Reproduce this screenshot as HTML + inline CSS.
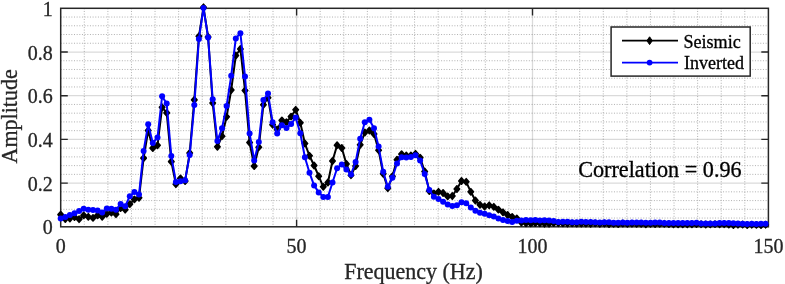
<!DOCTYPE html><html><head><meta charset="utf-8"><style>
html,body{margin:0;padding:0;background:#fff;}
svg{display:block;filter:blur(0.45px);}
text{font-family:"Liberation Serif","Times New Roman",serif;fill:#262626;stroke:#262626;stroke-width:0.3px;}
</style></head><body>
<svg width="785" height="284" viewBox="0 0 785 284">
<rect x="0" y="0" width="785" height="284" fill="#fff"/>
<path d="M84.29 8.30V226.80M107.88 8.30V226.80M131.47 8.30V226.80M155.06 8.30V226.80M178.65 8.30V226.80M202.24 8.30V226.80M225.83 8.30V226.80M249.42 8.30V226.80M273.01 8.30V226.80M320.19 8.30V226.80M343.78 8.30V226.80M367.37 8.30V226.80M390.96 8.30V226.80M414.55 8.30V226.80M438.14 8.30V226.80M461.73 8.30V226.80M485.32 8.30V226.80M508.91 8.30V226.80M556.09 8.30V226.80M579.68 8.30V226.80M603.27 8.30V226.80M626.86 8.30V226.80M650.45 8.30V226.80M674.04 8.30V226.80M697.63 8.30V226.80M721.22 8.30V226.80M744.81 8.30V226.80M60.70 218.06H768.40M60.70 209.32H768.40M60.70 200.58H768.40M60.70 191.84H768.40M60.70 174.36H768.40M60.70 165.62H768.40M60.70 156.88H768.40M60.70 148.14H768.40M60.70 130.66H768.40M60.70 121.92H768.40M60.70 113.18H768.40M60.70 104.44H768.40M60.70 86.96H768.40M60.70 78.22H768.40M60.70 69.48H768.40M60.70 60.74H768.40M60.70 43.26H768.40M60.70 34.52H768.40M60.70 25.78H768.40M60.70 17.04H768.40" stroke="#a8a8a8" stroke-width="0.9" stroke-dasharray="1 1.66" fill="none"/>
<path d="M296.60 8.30V226.80M532.50 8.30V226.80" stroke="#262626" stroke-opacity="0.17" stroke-width="1.25" fill="none"/>
<path d="M60.70 183.10H768.40M60.70 139.40H768.40M60.70 95.70H768.40M60.70 52.00H768.40" stroke="#262626" stroke-opacity="0.17" stroke-width="1.25" fill="none"/>
<rect x="60.70" y="8.30" width="707.70" height="218.50" fill="none" stroke="#262626" stroke-width="1.5"/>
<path d="M296.60 226.80V219.70M296.60 8.30V15.40M532.50 226.80V219.70M532.50 8.30V15.40M60.70 183.10H67.80M768.40 183.10H761.30M60.70 139.40H67.80M768.40 139.40H761.30M60.70 95.70H67.80M768.40 95.70H761.30M60.70 52.00H67.80M768.40 52.00H761.30" stroke="#262626" stroke-width="1.4" fill="none"/>
<defs><clipPath id="c"><rect x="59.70" y="5.30" width="709.70" height="223.50"/></clipPath></defs>
<g clip-path="url(#c)">
<polyline points="60.7,214.6 65.3,219.0 69.9,218.5 74.5,217.0 79.1,219.2 83.7,215.4 88.3,216.8 93.0,217.9 97.6,215.4 102.2,216.8 106.8,213.9 111.4,212.5 116.0,214.2 120.6,208.0 125.2,209.7 129.8,204.1 134.4,199.4 139.0,197.8 143.6,158.1 148.2,130.5 152.8,148.1 157.5,145.3 162.1,107.3 166.7,112.9 171.3,161.6 175.9,184.2 180.5,178.4 185.1,181.1 189.7,153.0 194.3,99.9 198.9,36.3 203.5,7.3 208.1,37.0 212.7,103.0 217.4,146.8 222.0,136.2 226.6,116.8 231.2,90.0 235.8,55.5 240.4,49.0 245.0,90.5 249.6,142.5 254.2,166.1 258.8,147.2 263.4,104.8 268.0,97.7 272.6,124.7 277.2,129.5 281.9,120.4 286.5,122.1 291.1,116.6 295.7,109.8 300.3,122.8 304.9,143.5 309.5,155.8 314.1,165.5 318.7,176.2 323.3,186.8 327.9,182.5 332.5,161.0 337.1,145.2 341.8,148.0 346.4,164.0 351.0,175.2 355.6,166.0 360.2,144.8 364.8,132.5 369.4,130.5 374.0,134.0 378.6,150.2 383.2,173.8 387.8,188.2 392.4,176.3 397.0,159.7 401.6,154.1 406.3,155.5 410.9,155.5 415.5,153.8 420.1,157.6 424.7,171.5 429.3,191.0 433.9,193.4 438.5,191.8 443.1,193.0 447.7,196.4 452.3,196.0 456.9,189.0 461.5,181.0 466.2,181.8 470.8,191.8 475.4,200.5 480.0,204.8 484.6,206.5 489.2,205.3 493.8,206.8 498.4,209.6 503.0,212.3 507.6,215.0 512.2,216.9 516.8,218.4 521.4,222.5 526.0,223.3 530.7,223.4 535.3,223.1 539.9,223.3 544.5,223.7 549.1,223.7 553.7,223.1 558.3,223.2 562.9,223.4 567.5,223.5 572.1,223.4 576.7,223.6 581.3,223.6 585.9,223.6 590.6,223.8 595.2,223.4 599.8,223.9 604.4,223.5 609.0,224.1 613.6,223.9 618.2,224.1 622.8,223.5 627.4,223.9 632.0,223.7 636.6,223.9 641.2,223.8 645.8,224.3 650.5,223.9 655.1,224.0 659.7,223.9 664.3,223.8 668.9,224.1 673.5,224.4 678.1,224.4 682.7,224.4 687.3,224.3 691.9,224.3 696.5,224.1 701.1,224.2 705.7,224.5 710.3,224.4 715.0,224.1 719.6,224.3 724.2,224.2 728.8,224.6 733.4,225.0 738.0,224.7 742.6,224.5 747.2,225.0 751.8,224.7 756.4,224.9 761.0,225.1 765.6,224.7" fill="none" stroke="#000" stroke-width="2.0" stroke-linejoin="round"/>
</g>
<path d="M60.7 211.5l2.7 3.1l-2.7 3.1l-2.7 -3.1zM65.3 215.9l2.7 3.1l-2.7 3.1l-2.7 -3.1zM69.9 215.4l2.7 3.1l-2.7 3.1l-2.7 -3.1zM74.5 213.9l2.7 3.1l-2.7 3.1l-2.7 -3.1zM79.1 216.1l2.7 3.1l-2.7 3.1l-2.7 -3.1zM83.7 212.3l2.7 3.1l-2.7 3.1l-2.7 -3.1zM88.3 213.7l2.7 3.1l-2.7 3.1l-2.7 -3.1zM93.0 214.8l2.7 3.1l-2.7 3.1l-2.7 -3.1zM97.6 212.3l2.7 3.1l-2.7 3.1l-2.7 -3.1zM102.2 213.7l2.7 3.1l-2.7 3.1l-2.7 -3.1zM106.8 210.8l2.7 3.1l-2.7 3.1l-2.7 -3.1zM111.4 209.4l2.7 3.1l-2.7 3.1l-2.7 -3.1zM116.0 211.1l2.7 3.1l-2.7 3.1l-2.7 -3.1zM120.6 204.9l2.7 3.1l-2.7 3.1l-2.7 -3.1zM125.2 206.6l2.7 3.1l-2.7 3.1l-2.7 -3.1zM129.8 201.0l2.7 3.1l-2.7 3.1l-2.7 -3.1zM134.4 196.3l2.7 3.1l-2.7 3.1l-2.7 -3.1zM139.0 194.7l2.7 3.1l-2.7 3.1l-2.7 -3.1zM143.6 155.0l2.7 3.1l-2.7 3.1l-2.7 -3.1zM148.2 127.4l2.7 3.1l-2.7 3.1l-2.7 -3.1zM152.8 145.0l2.7 3.1l-2.7 3.1l-2.7 -3.1zM157.5 142.2l2.7 3.1l-2.7 3.1l-2.7 -3.1zM162.1 104.2l2.7 3.1l-2.7 3.1l-2.7 -3.1zM166.7 109.8l2.7 3.1l-2.7 3.1l-2.7 -3.1zM171.3 158.5l2.7 3.1l-2.7 3.1l-2.7 -3.1zM175.9 181.1l2.7 3.1l-2.7 3.1l-2.7 -3.1zM180.5 175.3l2.7 3.1l-2.7 3.1l-2.7 -3.1zM185.1 178.0l2.7 3.1l-2.7 3.1l-2.7 -3.1zM189.7 149.9l2.7 3.1l-2.7 3.1l-2.7 -3.1zM194.3 96.8l2.7 3.1l-2.7 3.1l-2.7 -3.1zM198.9 33.2l2.7 3.1l-2.7 3.1l-2.7 -3.1zM203.5 4.2l2.7 3.1l-2.7 3.1l-2.7 -3.1zM208.1 33.9l2.7 3.1l-2.7 3.1l-2.7 -3.1zM212.7 99.9l2.7 3.1l-2.7 3.1l-2.7 -3.1zM217.4 143.7l2.7 3.1l-2.7 3.1l-2.7 -3.1zM222.0 133.1l2.7 3.1l-2.7 3.1l-2.7 -3.1zM226.6 113.7l2.7 3.1l-2.7 3.1l-2.7 -3.1zM231.2 86.9l2.7 3.1l-2.7 3.1l-2.7 -3.1zM235.8 52.4l2.7 3.1l-2.7 3.1l-2.7 -3.1zM240.4 45.9l2.7 3.1l-2.7 3.1l-2.7 -3.1zM245.0 87.4l2.7 3.1l-2.7 3.1l-2.7 -3.1zM249.6 139.4l2.7 3.1l-2.7 3.1l-2.7 -3.1zM254.2 163.0l2.7 3.1l-2.7 3.1l-2.7 -3.1zM258.8 144.1l2.7 3.1l-2.7 3.1l-2.7 -3.1zM263.4 101.7l2.7 3.1l-2.7 3.1l-2.7 -3.1zM268.0 94.6l2.7 3.1l-2.7 3.1l-2.7 -3.1zM272.6 121.6l2.7 3.1l-2.7 3.1l-2.7 -3.1zM277.2 126.4l2.7 3.1l-2.7 3.1l-2.7 -3.1zM281.9 117.3l2.7 3.1l-2.7 3.1l-2.7 -3.1zM286.5 119.0l2.7 3.1l-2.7 3.1l-2.7 -3.1zM291.1 113.5l2.7 3.1l-2.7 3.1l-2.7 -3.1zM295.7 106.7l2.7 3.1l-2.7 3.1l-2.7 -3.1zM300.3 119.7l2.7 3.1l-2.7 3.1l-2.7 -3.1zM304.9 140.4l2.7 3.1l-2.7 3.1l-2.7 -3.1zM309.5 152.7l2.7 3.1l-2.7 3.1l-2.7 -3.1zM314.1 162.4l2.7 3.1l-2.7 3.1l-2.7 -3.1zM318.7 173.1l2.7 3.1l-2.7 3.1l-2.7 -3.1zM323.3 183.7l2.7 3.1l-2.7 3.1l-2.7 -3.1zM327.9 179.4l2.7 3.1l-2.7 3.1l-2.7 -3.1zM332.5 157.9l2.7 3.1l-2.7 3.1l-2.7 -3.1zM337.1 142.1l2.7 3.1l-2.7 3.1l-2.7 -3.1zM341.8 144.9l2.7 3.1l-2.7 3.1l-2.7 -3.1zM346.4 160.9l2.7 3.1l-2.7 3.1l-2.7 -3.1zM351.0 172.1l2.7 3.1l-2.7 3.1l-2.7 -3.1zM355.6 162.9l2.7 3.1l-2.7 3.1l-2.7 -3.1zM360.2 141.7l2.7 3.1l-2.7 3.1l-2.7 -3.1zM364.8 129.4l2.7 3.1l-2.7 3.1l-2.7 -3.1zM369.4 127.4l2.7 3.1l-2.7 3.1l-2.7 -3.1zM374.0 130.9l2.7 3.1l-2.7 3.1l-2.7 -3.1zM378.6 147.1l2.7 3.1l-2.7 3.1l-2.7 -3.1zM383.2 170.7l2.7 3.1l-2.7 3.1l-2.7 -3.1zM387.8 185.1l2.7 3.1l-2.7 3.1l-2.7 -3.1zM392.4 173.2l2.7 3.1l-2.7 3.1l-2.7 -3.1zM397.0 156.6l2.7 3.1l-2.7 3.1l-2.7 -3.1zM401.6 151.0l2.7 3.1l-2.7 3.1l-2.7 -3.1zM406.3 152.4l2.7 3.1l-2.7 3.1l-2.7 -3.1zM410.9 152.4l2.7 3.1l-2.7 3.1l-2.7 -3.1zM415.5 150.7l2.7 3.1l-2.7 3.1l-2.7 -3.1zM420.1 154.5l2.7 3.1l-2.7 3.1l-2.7 -3.1zM424.7 168.4l2.7 3.1l-2.7 3.1l-2.7 -3.1zM429.3 187.9l2.7 3.1l-2.7 3.1l-2.7 -3.1zM433.9 190.3l2.7 3.1l-2.7 3.1l-2.7 -3.1zM438.5 188.7l2.7 3.1l-2.7 3.1l-2.7 -3.1zM443.1 189.9l2.7 3.1l-2.7 3.1l-2.7 -3.1zM447.7 193.3l2.7 3.1l-2.7 3.1l-2.7 -3.1zM452.3 192.9l2.7 3.1l-2.7 3.1l-2.7 -3.1zM456.9 185.9l2.7 3.1l-2.7 3.1l-2.7 -3.1zM461.5 177.9l2.7 3.1l-2.7 3.1l-2.7 -3.1zM466.2 178.7l2.7 3.1l-2.7 3.1l-2.7 -3.1zM470.8 188.7l2.7 3.1l-2.7 3.1l-2.7 -3.1zM475.4 197.4l2.7 3.1l-2.7 3.1l-2.7 -3.1zM480.0 201.7l2.7 3.1l-2.7 3.1l-2.7 -3.1zM484.6 203.4l2.7 3.1l-2.7 3.1l-2.7 -3.1zM489.2 202.2l2.7 3.1l-2.7 3.1l-2.7 -3.1zM493.8 203.7l2.7 3.1l-2.7 3.1l-2.7 -3.1zM498.4 206.5l2.7 3.1l-2.7 3.1l-2.7 -3.1zM503.0 209.2l2.7 3.1l-2.7 3.1l-2.7 -3.1zM507.6 211.9l2.7 3.1l-2.7 3.1l-2.7 -3.1zM512.2 213.8l2.7 3.1l-2.7 3.1l-2.7 -3.1zM516.8 215.3l2.7 3.1l-2.7 3.1l-2.7 -3.1zM521.4 219.4l2.7 3.1l-2.7 3.1l-2.7 -3.1zM526.0 220.2l2.7 3.1l-2.7 3.1l-2.7 -3.1zM530.7 220.3l2.7 3.1l-2.7 3.1l-2.7 -3.1zM535.3 220.0l2.7 3.1l-2.7 3.1l-2.7 -3.1zM539.9 220.2l2.7 3.1l-2.7 3.1l-2.7 -3.1zM544.5 220.6l2.7 3.1l-2.7 3.1l-2.7 -3.1zM549.1 220.6l2.7 3.1l-2.7 3.1l-2.7 -3.1zM553.7 220.0l2.7 3.1l-2.7 3.1l-2.7 -3.1zM558.3 220.1l2.7 3.1l-2.7 3.1l-2.7 -3.1zM562.9 220.3l2.7 3.1l-2.7 3.1l-2.7 -3.1zM567.5 220.4l2.7 3.1l-2.7 3.1l-2.7 -3.1zM572.1 220.3l2.7 3.1l-2.7 3.1l-2.7 -3.1zM576.7 220.5l2.7 3.1l-2.7 3.1l-2.7 -3.1zM581.3 220.5l2.7 3.1l-2.7 3.1l-2.7 -3.1zM585.9 220.5l2.7 3.1l-2.7 3.1l-2.7 -3.1zM590.6 220.7l2.7 3.1l-2.7 3.1l-2.7 -3.1zM595.2 220.3l2.7 3.1l-2.7 3.1l-2.7 -3.1zM599.8 220.8l2.7 3.1l-2.7 3.1l-2.7 -3.1zM604.4 220.4l2.7 3.1l-2.7 3.1l-2.7 -3.1zM609.0 221.0l2.7 3.1l-2.7 3.1l-2.7 -3.1zM613.6 220.8l2.7 3.1l-2.7 3.1l-2.7 -3.1zM618.2 221.0l2.7 3.1l-2.7 3.1l-2.7 -3.1zM622.8 220.4l2.7 3.1l-2.7 3.1l-2.7 -3.1zM627.4 220.8l2.7 3.1l-2.7 3.1l-2.7 -3.1zM632.0 220.6l2.7 3.1l-2.7 3.1l-2.7 -3.1zM636.6 220.8l2.7 3.1l-2.7 3.1l-2.7 -3.1zM641.2 220.7l2.7 3.1l-2.7 3.1l-2.7 -3.1zM645.8 221.2l2.7 3.1l-2.7 3.1l-2.7 -3.1zM650.5 220.8l2.7 3.1l-2.7 3.1l-2.7 -3.1zM655.1 220.9l2.7 3.1l-2.7 3.1l-2.7 -3.1zM659.7 220.8l2.7 3.1l-2.7 3.1l-2.7 -3.1zM664.3 220.7l2.7 3.1l-2.7 3.1l-2.7 -3.1zM668.9 221.0l2.7 3.1l-2.7 3.1l-2.7 -3.1zM673.5 221.3l2.7 3.1l-2.7 3.1l-2.7 -3.1zM678.1 221.3l2.7 3.1l-2.7 3.1l-2.7 -3.1zM682.7 221.3l2.7 3.1l-2.7 3.1l-2.7 -3.1zM687.3 221.2l2.7 3.1l-2.7 3.1l-2.7 -3.1zM691.9 221.2l2.7 3.1l-2.7 3.1l-2.7 -3.1zM696.5 221.0l2.7 3.1l-2.7 3.1l-2.7 -3.1zM701.1 221.1l2.7 3.1l-2.7 3.1l-2.7 -3.1zM705.7 221.4l2.7 3.1l-2.7 3.1l-2.7 -3.1zM710.3 221.3l2.7 3.1l-2.7 3.1l-2.7 -3.1zM715.0 221.0l2.7 3.1l-2.7 3.1l-2.7 -3.1zM719.6 221.2l2.7 3.1l-2.7 3.1l-2.7 -3.1zM724.2 221.1l2.7 3.1l-2.7 3.1l-2.7 -3.1zM728.8 221.5l2.7 3.1l-2.7 3.1l-2.7 -3.1zM733.4 221.9l2.7 3.1l-2.7 3.1l-2.7 -3.1zM738.0 221.6l2.7 3.1l-2.7 3.1l-2.7 -3.1zM742.6 221.4l2.7 3.1l-2.7 3.1l-2.7 -3.1zM747.2 221.9l2.7 3.1l-2.7 3.1l-2.7 -3.1zM751.8 221.6l2.7 3.1l-2.7 3.1l-2.7 -3.1zM756.4 221.8l2.7 3.1l-2.7 3.1l-2.7 -3.1zM761.0 222.0l2.7 3.1l-2.7 3.1l-2.7 -3.1zM765.6 221.6l2.7 3.1l-2.7 3.1l-2.7 -3.1z" fill="#000" stroke="#000" stroke-width="1.6" stroke-linejoin="round"/>
<g clip-path="url(#c)">
<polyline points="60.7,218.5 65.3,217.0 69.9,215.1 74.5,213.2 79.1,211.1 83.7,208.7 88.3,209.7 93.0,210.1 97.6,210.4 102.2,212.5 106.8,208.6 111.4,208.7 116.0,209.7 120.6,204.1 125.2,206.2 129.8,196.2 134.4,192.0 139.0,194.6 143.6,151.0 148.2,124.2 152.8,142.9 157.5,137.5 162.1,96.3 166.7,103.6 171.3,155.9 175.9,181.9 180.5,181.2 185.1,180.2 189.7,155.1 194.3,105.1 198.9,39.1 203.5,8.0 208.1,37.4 212.7,99.2 217.4,141.1 222.0,128.2 226.6,105.9 231.2,75.8 235.8,38.4 240.4,33.2 245.0,76.6 249.6,133.4 254.2,160.4 258.8,142.0 263.4,100.1 268.0,93.5 272.6,122.2 277.2,133.5 281.9,125.3 286.5,128.0 291.1,124.0 295.7,117.6 300.3,133.2 304.9,157.2 309.5,172.8 314.1,185.4 318.7,192.4 323.3,196.9 327.9,196.9 332.5,182.5 337.1,168.3 341.8,164.5 346.4,169.5 351.0,174.4 355.6,162.0 360.2,138.8 364.8,122.2 369.4,119.8 374.0,128.2 378.6,146.6 383.2,171.7 387.8,186.8 392.4,177.8 397.0,163.5 401.6,157.2 406.3,157.6 410.9,156.9 415.5,155.2 420.1,160.4 424.7,174.0 429.3,190.0 433.9,196.8 438.5,199.0 443.1,201.7 447.7,204.5 452.3,206.0 456.9,205.3 461.5,202.2 466.2,203.2 470.8,207.5 475.4,210.7 480.0,212.8 484.6,213.8 489.2,215.2 493.8,216.6 498.4,218.6 503.0,220.1 507.6,220.9 512.2,222.0 516.8,220.7 521.4,220.4 526.0,220.1 530.7,220.3 535.3,220.1 539.9,220.6 544.5,220.3 549.1,220.6 553.7,220.9 558.3,222.0 562.9,221.7 567.5,221.7 572.1,222.2 576.7,222.3 581.3,221.8 585.9,222.0 590.6,222.1 595.2,222.3 599.8,222.4 604.4,222.2 609.0,222.3 613.6,222.8 618.2,222.8 622.8,222.4 627.4,222.7 632.0,222.5 636.6,222.6 641.2,222.5 645.8,222.7 650.5,222.8 655.1,222.6 659.7,222.6 664.3,222.9 668.9,222.9 673.5,223.1 678.1,223.1 682.7,222.9 687.3,222.9 691.9,223.0 696.5,222.8 701.1,223.5 705.7,223.4 710.3,223.4 715.0,223.4 719.6,223.0 724.2,223.1 728.8,223.1 733.4,223.2 738.0,223.6 742.6,223.7 747.2,223.9 751.8,223.8 756.4,223.9 761.0,223.8 765.6,223.8" fill="none" stroke="#00f" stroke-width="2.0" stroke-linejoin="round"/>
</g>
<g fill="#00f"><circle cx="60.7" cy="218.5" r="3.0"/><circle cx="65.3" cy="217.0" r="3.0"/><circle cx="69.9" cy="215.1" r="3.0"/><circle cx="74.5" cy="213.2" r="3.0"/><circle cx="79.1" cy="211.1" r="3.0"/><circle cx="83.7" cy="208.7" r="3.0"/><circle cx="88.3" cy="209.7" r="3.0"/><circle cx="93.0" cy="210.1" r="3.0"/><circle cx="97.6" cy="210.4" r="3.0"/><circle cx="102.2" cy="212.5" r="3.0"/><circle cx="106.8" cy="208.6" r="3.0"/><circle cx="111.4" cy="208.7" r="3.0"/><circle cx="116.0" cy="209.7" r="3.0"/><circle cx="120.6" cy="204.1" r="3.0"/><circle cx="125.2" cy="206.2" r="3.0"/><circle cx="129.8" cy="196.2" r="3.0"/><circle cx="134.4" cy="192.0" r="3.0"/><circle cx="139.0" cy="194.6" r="3.0"/><circle cx="143.6" cy="151.0" r="3.0"/><circle cx="148.2" cy="124.2" r="3.0"/><circle cx="152.8" cy="142.9" r="3.0"/><circle cx="157.5" cy="137.5" r="3.0"/><circle cx="162.1" cy="96.3" r="3.0"/><circle cx="166.7" cy="103.6" r="3.0"/><circle cx="171.3" cy="155.9" r="3.0"/><circle cx="175.9" cy="181.9" r="3.0"/><circle cx="180.5" cy="181.2" r="3.0"/><circle cx="185.1" cy="180.2" r="3.0"/><circle cx="189.7" cy="155.1" r="3.0"/><circle cx="194.3" cy="105.1" r="3.0"/><circle cx="198.9" cy="39.1" r="3.0"/><circle cx="203.5" cy="8.0" r="3.0"/><circle cx="208.1" cy="37.4" r="3.0"/><circle cx="212.7" cy="99.2" r="3.0"/><circle cx="217.4" cy="141.1" r="3.0"/><circle cx="222.0" cy="128.2" r="3.0"/><circle cx="226.6" cy="105.9" r="3.0"/><circle cx="231.2" cy="75.8" r="3.0"/><circle cx="235.8" cy="38.4" r="3.0"/><circle cx="240.4" cy="33.2" r="3.0"/><circle cx="245.0" cy="76.6" r="3.0"/><circle cx="249.6" cy="133.4" r="3.0"/><circle cx="254.2" cy="160.4" r="3.0"/><circle cx="258.8" cy="142.0" r="3.0"/><circle cx="263.4" cy="100.1" r="3.0"/><circle cx="268.0" cy="93.5" r="3.0"/><circle cx="272.6" cy="122.2" r="3.0"/><circle cx="277.2" cy="133.5" r="3.0"/><circle cx="281.9" cy="125.3" r="3.0"/><circle cx="286.5" cy="128.0" r="3.0"/><circle cx="291.1" cy="124.0" r="3.0"/><circle cx="295.7" cy="117.6" r="3.0"/><circle cx="300.3" cy="133.2" r="3.0"/><circle cx="304.9" cy="157.2" r="3.0"/><circle cx="309.5" cy="172.8" r="3.0"/><circle cx="314.1" cy="185.4" r="3.0"/><circle cx="318.7" cy="192.4" r="3.0"/><circle cx="323.3" cy="196.9" r="3.0"/><circle cx="327.9" cy="196.9" r="3.0"/><circle cx="332.5" cy="182.5" r="3.0"/><circle cx="337.1" cy="168.3" r="3.0"/><circle cx="341.8" cy="164.5" r="3.0"/><circle cx="346.4" cy="169.5" r="3.0"/><circle cx="351.0" cy="174.4" r="3.0"/><circle cx="355.6" cy="162.0" r="3.0"/><circle cx="360.2" cy="138.8" r="3.0"/><circle cx="364.8" cy="122.2" r="3.0"/><circle cx="369.4" cy="119.8" r="3.0"/><circle cx="374.0" cy="128.2" r="3.0"/><circle cx="378.6" cy="146.6" r="3.0"/><circle cx="383.2" cy="171.7" r="3.0"/><circle cx="387.8" cy="186.8" r="3.0"/><circle cx="392.4" cy="177.8" r="3.0"/><circle cx="397.0" cy="163.5" r="3.0"/><circle cx="401.6" cy="157.2" r="3.0"/><circle cx="406.3" cy="157.6" r="3.0"/><circle cx="410.9" cy="156.9" r="3.0"/><circle cx="415.5" cy="155.2" r="3.0"/><circle cx="420.1" cy="160.4" r="3.0"/><circle cx="424.7" cy="174.0" r="3.0"/><circle cx="429.3" cy="190.0" r="3.0"/><circle cx="433.9" cy="196.8" r="3.0"/><circle cx="438.5" cy="199.0" r="3.0"/><circle cx="443.1" cy="201.7" r="3.0"/><circle cx="447.7" cy="204.5" r="3.0"/><circle cx="452.3" cy="206.0" r="3.0"/><circle cx="456.9" cy="205.3" r="3.0"/><circle cx="461.5" cy="202.2" r="3.0"/><circle cx="466.2" cy="203.2" r="3.0"/><circle cx="470.8" cy="207.5" r="3.0"/><circle cx="475.4" cy="210.7" r="3.0"/><circle cx="480.0" cy="212.8" r="3.0"/><circle cx="484.6" cy="213.8" r="3.0"/><circle cx="489.2" cy="215.2" r="3.0"/><circle cx="493.8" cy="216.6" r="3.0"/><circle cx="498.4" cy="218.6" r="3.0"/><circle cx="503.0" cy="220.1" r="3.0"/><circle cx="507.6" cy="220.9" r="3.0"/><circle cx="512.2" cy="222.0" r="3.0"/><circle cx="516.8" cy="220.7" r="3.0"/><circle cx="521.4" cy="220.4" r="3.0"/><circle cx="526.0" cy="220.1" r="3.0"/><circle cx="530.7" cy="220.3" r="3.0"/><circle cx="535.3" cy="220.1" r="3.0"/><circle cx="539.9" cy="220.6" r="3.0"/><circle cx="544.5" cy="220.3" r="3.0"/><circle cx="549.1" cy="220.6" r="3.0"/><circle cx="553.7" cy="220.9" r="3.0"/><circle cx="558.3" cy="222.0" r="3.0"/><circle cx="562.9" cy="221.7" r="3.0"/><circle cx="567.5" cy="221.7" r="3.0"/><circle cx="572.1" cy="222.2" r="3.0"/><circle cx="576.7" cy="222.3" r="3.0"/><circle cx="581.3" cy="221.8" r="3.0"/><circle cx="585.9" cy="222.0" r="3.0"/><circle cx="590.6" cy="222.1" r="3.0"/><circle cx="595.2" cy="222.3" r="3.0"/><circle cx="599.8" cy="222.4" r="3.0"/><circle cx="604.4" cy="222.2" r="3.0"/><circle cx="609.0" cy="222.3" r="3.0"/><circle cx="613.6" cy="222.8" r="3.0"/><circle cx="618.2" cy="222.8" r="3.0"/><circle cx="622.8" cy="222.4" r="3.0"/><circle cx="627.4" cy="222.7" r="3.0"/><circle cx="632.0" cy="222.5" r="3.0"/><circle cx="636.6" cy="222.6" r="3.0"/><circle cx="641.2" cy="222.5" r="3.0"/><circle cx="645.8" cy="222.7" r="3.0"/><circle cx="650.5" cy="222.8" r="3.0"/><circle cx="655.1" cy="222.6" r="3.0"/><circle cx="659.7" cy="222.6" r="3.0"/><circle cx="664.3" cy="222.9" r="3.0"/><circle cx="668.9" cy="222.9" r="3.0"/><circle cx="673.5" cy="223.1" r="3.0"/><circle cx="678.1" cy="223.1" r="3.0"/><circle cx="682.7" cy="222.9" r="3.0"/><circle cx="687.3" cy="222.9" r="3.0"/><circle cx="691.9" cy="223.0" r="3.0"/><circle cx="696.5" cy="222.8" r="3.0"/><circle cx="701.1" cy="223.5" r="3.0"/><circle cx="705.7" cy="223.4" r="3.0"/><circle cx="710.3" cy="223.4" r="3.0"/><circle cx="715.0" cy="223.4" r="3.0"/><circle cx="719.6" cy="223.0" r="3.0"/><circle cx="724.2" cy="223.1" r="3.0"/><circle cx="728.8" cy="223.1" r="3.0"/><circle cx="733.4" cy="223.2" r="3.0"/><circle cx="738.0" cy="223.6" r="3.0"/><circle cx="742.6" cy="223.7" r="3.0"/><circle cx="747.2" cy="223.9" r="3.0"/><circle cx="751.8" cy="223.8" r="3.0"/><circle cx="756.4" cy="223.9" r="3.0"/><circle cx="761.0" cy="223.8" r="3.0"/><circle cx="765.6" cy="223.8" r="3.0"/></g>
<text transform="translate(52.70,234.40) scale(1,1.055)" font-size="20" text-anchor="end">0</text>
<text transform="translate(52.70,190.70) scale(1,1.055)" font-size="20" text-anchor="end">0.2</text>
<text transform="translate(52.70,147.00) scale(1,1.055)" font-size="20" text-anchor="end">0.4</text>
<text transform="translate(52.70,103.30) scale(1,1.055)" font-size="20" text-anchor="end">0.6</text>
<text transform="translate(52.70,59.60) scale(1,1.055)" font-size="20" text-anchor="end">0.8</text>
<text transform="translate(52.70,15.90) scale(1,1.055)" font-size="20" text-anchor="end">1</text>
<text transform="translate(60.70,253.30) scale(1,1.055)" font-size="20" text-anchor="middle">0</text>
<text transform="translate(296.60,253.30) scale(1,1.055)" font-size="20" text-anchor="middle">50</text>
<text transform="translate(532.50,253.30) scale(1,1.055)" font-size="20" text-anchor="middle">100</text>
<text transform="translate(768.40,253.30) scale(1,1.055)" font-size="20" text-anchor="middle">150</text>
<text transform="translate(413.50,279.20) scale(1,1.055)" font-size="22" text-anchor="middle">Frequency (Hz)</text>
<text transform="translate(17.20,116.35) rotate(-90) scale(1,1.055)" font-size="22" text-anchor="middle">Amplitude</text>
<text transform="translate(578.20,176.60) scale(1,1.055)" font-size="22.2" text-anchor="start" style="fill:#000;stroke:#000">Correlation = 0.96</text>
<rect x="611.1" y="27.0" width="139.1" height="49.1" fill="#fff" stroke="#262626" stroke-width="1.5"/>
<path d="M622 40.7H678" stroke="#000" stroke-width="1.8"/>
<path d="M649.6 36.8l2.7 3.9l-2.7 3.9l-2.7 -3.9z" fill="#000" stroke="#000" stroke-width="1.0" stroke-linejoin="round"/>
<path d="M622 62.7H678" stroke="#00f" stroke-width="1.8"/>
<circle cx="649.6" cy="62.6" r="2.9" fill="#00f"/>
<text transform="translate(683.40,47.80) scale(1,1.000)" font-size="18.1" text-anchor="start" style="fill:#000;stroke:#000">Seismic</text>
<text transform="translate(684.10,69.00) scale(1,1.000)" font-size="18.0" text-anchor="start" style="fill:#000;stroke:#000">Inverted</text>
</svg></body></html>
